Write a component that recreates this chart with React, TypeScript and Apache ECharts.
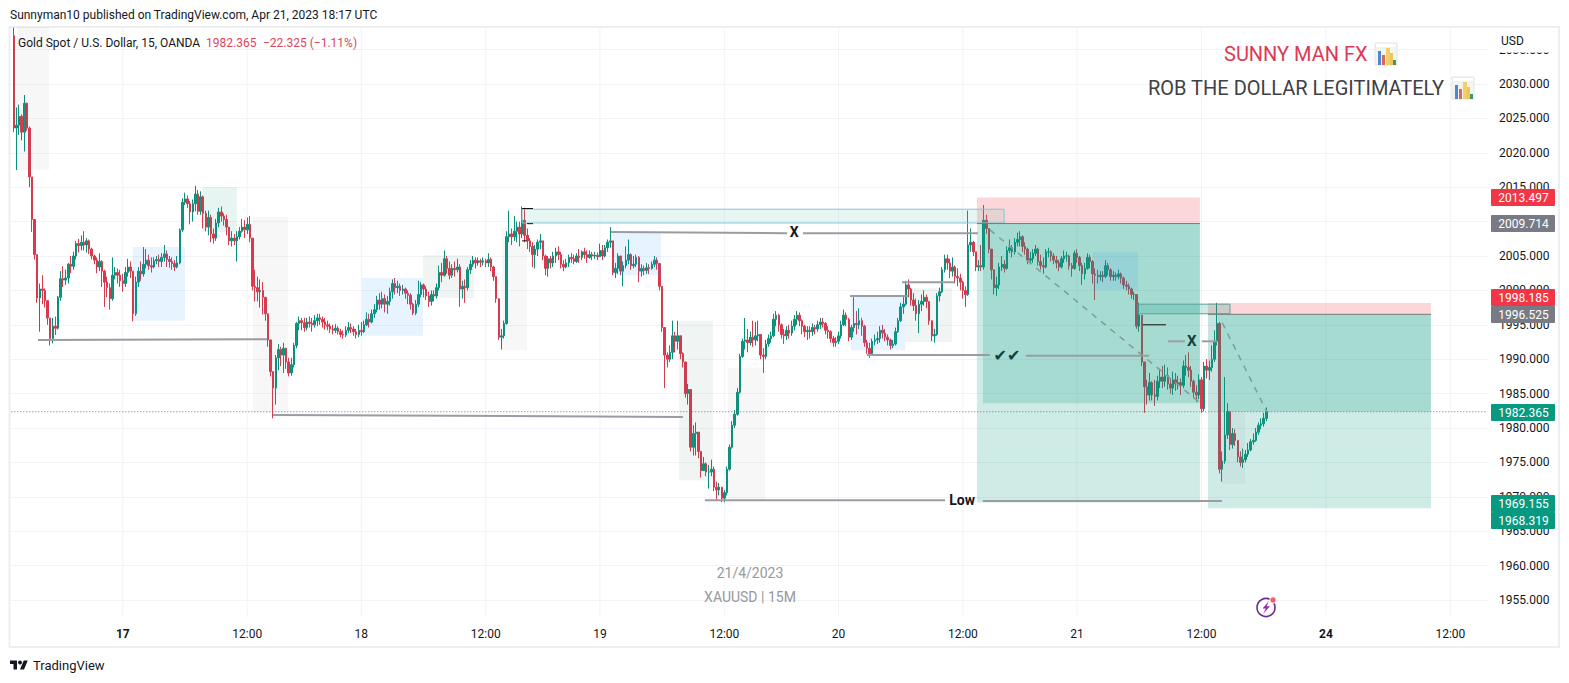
import React, { useEffect, useRef } from "react";
import * as echarts from "echarts";

// Every bar: [close, high, low]; a bar opens at the previous close.
const firstOpen = 2037.0;
const day16 = [
[2023.6,2038.2,2023.0],[2024.0,2026.6,2017.5],[2025.3,2027.0,2022.6],[2023.0,2025.6,2021.8],[2027.2,2028.4,2020.2],
[2023.6,2027.3,2023.2],[2016.5,2023.8,2015.0],[2010.3,2016.5,2008.5],[2005.2,2010.3,2004.5],[1998.9,2005.2,1998.2],
[2000.2,2001.0,1994.0],[2000.0,2002.2,1998.0],[1998.5,2000.3,1997.5],[1996.0,1998.5,1995.0],[1993.0,1996.0,1992.0],
[1994.8,1996.0,1992.3],[1994.5,1996.2,1993.5],[1999.0,1999.2,1994.3],[2001.7,2002.8,1998.5],[2001.5,2003.5,2000.5],
[2001.8,2003.0,2000.8],[2003.8,2004.0,2001.0],[2003.5,2005.0,2002.5],[2005.0,2005.6,2003.0],[2006.8,2007.2,2004.5],
[2006.5,2007.5,2005.5],[2007.0,2008.0,2005.8],[2006.6,2008.6,2005.8],[2007.2,2007.6,2005.5],[2006.0,2007.4,2005.3],
[2005.0,2006.2,2004.5],[2004.4,2005.2,2003.8],[2003.4,2004.8,2002.5],[2004.2,2005.4,2002.8],[2002.8,2004.4,2000.5],
[2001.2,2003.0,1997.6],[2000.4,2002.0,1999.0],[1998.8,2001.0,1997.2],[2002.2,2004.8,1998.5],[2002.6,2003.4,2001.6],
[2002.2,2003.2,2001.0],[2001.4,2003.0,2000.5],
];
const day17 = [
[2001.0,2002.4,1999.8],[2002.6,2003.4,2000.5],[2003.4,2004.6,2002.0],[2002.8,2004.2,2001.8],[1996.6,2002.8,1995.5],
[2001.2,2002.0,1996.3],[2002.8,2003.4,2000.5],[2002.4,2004.2,2001.4],[2003.8,2006.3,2002.0],[2004.4,2006.0,2003.2],
[2003.6,2005.2,2003.0],[2003.4,2004.8,2002.6],[2004.3,2004.8,2003.2],[2004.5,2005.0,2003.8],[2004.2,2005.2,2003.4],
[2004.8,2005.4,2003.4],[2005.3,2006.6,2004.2],[2004.5,2005.8,2003.4],[2004.2,2005.0,2003.3],[2003.9,2004.8,2003.0],
[2003.4,2004.4,2002.8],[2004.0,2005.0,2003.2],[2008.8,2009.0,2003.8],[2012.8,2013.4,2008.5],[2013.3,2014.2,2012.4],
[2012.6,2013.8,2012.0],[2011.4,2013.0,2009.6],[2012.6,2013.2,2010.0],[2014.0,2015.2,2011.5],[2011.5,2014.6,2011.0],
[2013.6,2014.4,2011.0],[2011.2,2013.8,2009.0],[2009.2,2011.6,2008.6],[2010.6,2011.6,2008.0],[2008.2,2011.0,2007.0],
[2007.6,2009.0,2006.8],[2009.8,2010.4,2007.2],[2011.4,2012.0,2009.2],[2010.8,2012.2,2010.0],[2010.3,2011.2,2009.4],
[2009.2,2011.0,2008.0],[2007.2,2009.2,2006.6],[2007.6,2008.6,2006.4],[2007.2,2008.2,2006.6],[2007.8,2008.6,2004.2],
[2008.6,2009.2,2007.4],[2009.2,2010.4,2008.4],[2008.8,2010.2,2007.6],[2009.6,2010.6,2008.2],[2007.6,2010.8,2007.0],
[2000.6,2007.6,2000.0],[2000.4,2003.0,1998.4],[1999.8,2002.0,1998.4],[2000.0,2001.6,1997.5],[1999.0,2001.2,1996.5],
[1996.6,1999.0,1995.6],[1992.8,1996.6,1991.8],[1988.2,1992.8,1987.5],[1985.8,1988.2,1981.4],[1990.2,1990.6,1983.4],
[1991.4,1992.2,1988.4],[1990.6,1991.8,1989.0],[1991.6,1992.4,1988.0],[1989.6,1991.6,1988.6],[1988.0,1990.2,1987.5],
[1989.2,1990.2,1987.6],[1992.0,1992.4,1988.8],[1995.2,1995.4,1991.6],[1995.6,1996.2,1994.2],[1995.3,1996.0,1994.2],
[1994.6,1996.0,1994.0],[1995.4,1996.0,1994.2],[1995.2,1996.2,1994.6],[1995.0,1996.0,1994.0],[1995.6,1996.4,1994.6],
[1996.0,1996.6,1994.8],[1995.8,1996.6,1995.0],[1995.4,1996.2,1994.6],[1995.0,1996.0,1994.3],[1994.8,1995.6,1994.2],
[1994.4,1995.2,1993.8],[1994.2,1995.0,1993.6],[1994.5,1995.1,1993.8],[1994.0,1994.8,1993.6],[1993.6,1994.4,1993.2],
[1993.5,1994.2,1993.0],[1994.2,1994.8,1993.2],[1994.6,1995.4,1993.8],[1994.4,1995.2,1993.8],[1994.0,1994.8,1993.4],
[1993.6,1994.4,1993.0],[1994.2,1995.0,1993.2],
];
const day18 = [
[1994.0,1995.4,1993.4],[1995.0,1995.6,1993.8],[1995.8,1996.8,1994.8],[1995.4,1996.6,1994.6],[1996.6,1997.2,1995.2],
[1997.2,1998.0,1996.0],[1998.6,1999.2,1996.8],[1998.0,1999.6,1997.2],[1998.8,1999.8,1997.4],[1998.0,1999.4,1996.8],
[1998.4,1999.2,1996.6],[1999.8,2000.4,1997.8],[2001.0,2001.6,1998.8],[2000.4,2001.8,1999.4],[2000.6,2001.4,1999.6],
[2000.0,2001.0,1999.2],[2000.2,2000.8,1999.4],[1999.6,2000.4,1998.8],[1999.3,2000.0,1998.0],[1998.0,1999.6,1997.2],
[1996.7,1998.2,1996.4],[1998.0,1998.6,1996.4],[1999.4,2001.4,1997.6],[2000.8,2001.2,1999.0],[2000.2,2001.0,1999.0],
[1999.2,2000.6,1998.6],[1998.4,1999.8,1997.6],[1999.4,2000.0,1997.8],[1999.2,2000.0,1998.4],[2000.4,2001.0,1998.8],
[2002.6,2003.6,2000.0],[2002.2,2004.0,2001.2],[2004.6,2005.8,2002.0],[2003.2,2005.0,2002.4],[2002.2,2004.2,2001.6],
[2003.2,2003.8,2001.8],[2003.0,2004.2,2002.0],[2003.4,2004.6,2002.6],[2000.2,2003.8,1997.6],[2000.6,2001.4,1998.8],
[2000.4,2001.6,1998.2],[2003.0,2003.4,2000.0],[2003.8,2004.4,2002.4],[2004.4,2005.0,2003.4],[2004.0,2004.8,2003.2],
[2004.3,2004.8,2003.6],[2004.1,2004.6,2003.4],[2004.3,2004.8,2003.6],[2004.0,2004.6,2003.4],[2004.5,2005.4,2003.4],
[2003.4,2004.8,2002.8],[2002.0,2003.6,2001.4],[1998.8,2002.0,1998.2],[1993.2,1998.8,1992.8],[1993.4,1994.4,1991.4],
[1995.2,1995.6,1993.0],[2007.8,2008.6,1995.0],[2008.2,2011.6,2007.0],[2007.8,2009.0,2006.6],[2008.6,2010.8,2007.2],
[2009.2,2010.0,2007.0],[2008.2,2010.0,2006.4],[2010.2,2012.2,2007.6],[2008.0,2012.0,2007.0],[2007.2,2009.0,2006.0],
[2006.4,2007.6,2005.6],[2005.2,2007.0,2003.4],[2006.0,2006.6,2003.2],[2007.0,2007.4,2005.0],[2007.2,2008.2,2006.0],
[2005.0,2007.2,2004.4],[2003.2,2005.2,2002.2],[2004.6,2005.0,2002.0],[2004.0,2005.0,2003.2],[2005.0,2005.6,2003.4],
[2005.6,2006.2,2004.0],[2005.2,2006.4,2004.4],[2003.8,2005.6,2003.2],[2003.4,2004.4,2002.8],[2004.0,2004.6,2003.2],
[2004.8,2005.2,2003.4],[2004.6,2005.4,2004.0],[2004.2,2005.2,2003.8],[2005.0,2005.4,2004.0],[2004.8,2006.0,2004.0],
[2005.6,2005.8,2004.4],[2005.2,2006.2,2004.6],[2004.8,2005.8,2004.0],[2005.2,2005.8,2004.6],[2005.0,2005.6,2004.4],
[2005.1,2005.6,2004.6],[2004.9,2005.5,2004.4],
];
const day19 = [
[2005.8,2006.8,2005.0],[2005.0,2006.6,2004.4],[2006.2,2006.6,2004.8],[2007.0,2007.4,2005.6],[2007.2,2009.2,2006.2],
[2002.6,2007.2,2002.2],[2003.2,2004.0,2001.8],[2005.0,2005.4,2002.4],[2002.8,2005.0,2002.2],[2003.6,2004.2,2000.6],
[2004.4,2006.4,2003.2],[2005.2,2007.4,2003.8],[2003.6,2005.4,2003.0],[2003.8,2005.0,2003.2],[2004.8,2005.2,2003.4],
[2002.8,2005.0,2001.2],[2003.2,2003.8,2002.0],[2002.9,2003.6,2002.2],[2003.3,2004.0,2002.4],[2003.2,2003.8,2002.4],
[2003.8,2004.2,2003.0],[2004.4,2005.0,2003.4],[2003.9,2004.8,2003.0],[2000.6,2003.9,2000.0],[1994.6,2000.6,1994.0],
[1990.6,1994.6,1985.8],[1990.0,1991.0,1988.8],[1991.0,1992.0,1989.6],[1993.4,1995.6,1990.0],[1992.6,1994.0,1991.0],
[1993.4,1995.6,1991.4],[1990.8,1993.4,1990.0],[1989.6,1991.0,1988.8],[1985.0,1989.6,1984.4],[1985.6,1986.4,1983.4],
[1977.2,1985.6,1976.6],[1979.2,1980.4,1976.0],[1979.4,1980.8,1976.0],[1976.6,1979.4,1975.6],[1973.8,1976.6,1972.8],
[1974.8,1975.8,1973.8],[1973.6,1975.0,1973.0],[1973.6,1974.6,1971.2],[1974.0,1975.4,1973.0],[1971.4,1974.4,1970.8],
[1971.0,1972.2,1969.6],[1971.4,1972.0,1970.2],[1969.8,1971.4,1969.2],[1970.6,1971.0,1969.2],[1974.0,1974.4,1970.2],
[1977.2,1977.6,1973.8],[1980.4,1981.0,1977.0],[1982.0,1982.6,1980.0],[1985.2,1985.8,1981.8],[1990.4,1990.8,1985.0],
[1992.6,1993.0,1990.2],[1992.8,1996.0,1991.4],[1992.4,1994.4,1991.0],[1993.2,1994.0,1992.0],[1992.8,1995.6,1991.8],
[1993.4,1995.4,1992.0],[1993.6,1995.6,1992.6],[1990.6,1993.6,1990.0],[1990.4,1991.6,1988.0],[1992.2,1992.8,1990.0],
[1993.0,1993.6,1991.8],[1993.4,1994.0,1992.4],[1995.8,1996.6,1993.2],[1996.4,1997.0,1994.8],[1995.0,1996.6,1994.0],
[1993.6,1995.2,1993.0],[1993.4,1994.4,1992.2],[1994.2,1994.8,1992.8],[1993.8,1995.0,1993.0],[1994.8,1995.6,1993.4],
[1995.8,1996.4,1994.2],[1996.4,1997.0,1995.0],[1995.6,1996.8,1994.8],[1994.8,1995.8,1993.6],[1994.0,1995.0,1993.2],
[1994.2,1994.8,1992.8],[1994.0,1994.8,1993.0],[1994.6,1995.2,1993.4],[1994.4,1995.0,1993.6],[1995.0,1995.6,1994.0],
[1995.4,1996.0,1994.4],[1995.2,1996.0,1994.6],[1994.2,1995.4,1993.6],[1994.0,1994.8,1993.0],[1993.0,1994.2,1992.4],
[1992.4,1993.4,1991.8],[1992.6,1993.2,1991.8],
];
const day20 = [
[1993.4,1994.0,1992.2],[1995.0,1995.6,1993.0],[1996.4,1997.2,1994.8],[1995.8,1996.8,1994.8],[1993.2,1996.0,1992.6],
[1994.6,1995.0,1992.8],[1995.2,1999.0,1994.0],[1995.0,1997.0,1993.6],[1995.6,1997.4,1994.4],[1994.8,1996.0,1993.4],
[1992.4,1995.0,1991.8],[1991.6,1992.8,1990.8],[1990.8,1992.4,1990.2],[1992.6,1993.0,1990.6],[1992.8,1993.6,1992.0],
[1993.0,1994.0,1992.2],[1994.2,1994.8,1992.4],[1993.8,1995.0,1993.0],[1993.2,1994.4,1992.6],[1992.8,1993.6,1992.0],
[1992.0,1993.0,1991.4],[1992.2,1992.8,1991.6],[1994.0,1994.6,1992.0],[1995.6,1996.0,1993.8],[1997.6,1998.2,1995.4],
[1998.0,1999.2,1996.6],[2000.8,2001.4,1997.8],[2000.2,2001.6,1999.0],[1998.6,2000.4,1997.8],[1997.8,1999.6,1997.0],
[1996.6,1998.8,1995.6],[1998.0,1998.6,1993.8],[1998.4,1999.4,1997.0],[1999.0,2000.0,1997.8],[1998.4,1999.4,1997.4],
[1995.6,1998.4,1995.0],[1993.4,1995.6,1992.6],[1993.6,1994.4,1992.4],[1999.2,1999.6,1993.4],[1999.8,2000.4,1998.4],
[2003.0,2003.4,1999.6],[2004.6,2005.2,2002.6],[2004.0,2005.2,2003.0],[2002.8,2004.6,2001.8],[2003.4,2004.8,2002.0],
[2002.0,2003.6,2001.0],[2001.8,2003.2,2000.6],[2001.2,2002.4,2000.0],[2000.0,2001.4,1998.8],[1999.4,2000.6,1997.6],
[2006.6,2011.6,1999.2],[2007.0,2009.0,2005.6],[2005.6,2007.2,2005.0],[2003.4,2005.6,2002.8],[2003.6,2004.4,2002.8],
[2003.4,2006.6,2002.8],[2010.2,2012.4,2003.0],[2009.0,2011.0,2008.2],[2006.0,2009.0,2005.4],[2003.0,2006.0,2001.6],
[2000.4,2003.0,1999.4],[2000.8,2002.0,1999.2],[2003.4,2004.0,2000.2],[2003.8,2005.0,2002.8],[2003.2,2004.4,2002.6],
[2005.8,2006.4,2003.0],[2006.2,2007.4,2005.4],[2005.6,2006.6,2004.8],[2007.0,2007.6,2005.2],[2007.4,2008.4,2006.4],
[2007.8,2008.6,2006.4],[2006.4,2008.0,2005.6],[2006.0,2007.0,2005.2],[2004.4,2006.2,2003.8],[2004.6,2005.6,2003.8],
[2005.4,2006.0,2004.0],[2006.0,2006.6,2005.0],[2004.2,2006.2,2003.6],[2003.6,2005.2,2003.0],[2003.4,2004.8,2002.4],
[2005.6,2006.0,2003.2],[2005.6,2006.2,2004.8],[2005.0,2005.8,2004.2],[2004.4,2005.4,2003.8],[2004.0,2005.0,2003.2],
[2003.4,2004.4,2002.8],[2004.6,2005.0,2003.2],[2005.0,2005.8,2004.0],[2005.0,2005.6,2004.2],[2003.6,2005.2,2003.0],
[2003.2,2004.0,2002.0],[2005.4,2005.8,2003.0],
];
const day21 = [
[2004.8,2006.0,2004.0],[2003.6,2005.0,2002.8],[2002.4,2004.0,2000.8],[2003.2,2004.0,2001.6],[2004.8,2005.4,2003.0],
[2004.2,2005.2,2003.2],[2002.4,2004.4,2001.0],[2002.2,2003.2,1998.6],[2002.0,2003.0,2001.0],[2002.2,2002.8,2001.4],
[2002.0,2002.8,2001.2],[2003.6,2004.4,2001.8],[2003.0,2004.0,2002.2],[2002.0,2003.2,2001.4],[2002.2,2002.8,2001.4],
[2002.0,2002.6,2001.4],[2002.4,2003.0,2001.6],[2001.8,2002.6,2001.0],[2000.8,2002.0,2000.2],[2000.6,2001.4,2000.0],
[2000.2,2001.0,1999.4],[1999.4,2000.4,1998.8],[1999.4,1999.8,1998.6],[1994.8,1999.4,1994.4],[1996.4,1998.2,1994.0],
[1989.6,1996.4,1989.0],[1986.0,1989.6,1982.2],[1984.8,1987.0,1983.4],[1986.6,1988.0,1984.0],[1984.8,1986.8,1984.0],
[1984.6,1987.0,1983.2],[1986.8,1987.6,1984.0],[1987.4,1988.6,1985.8],[1986.8,1989.0,1985.8],[1987.6,1989.2,1986.0],
[1986.4,1988.8,1985.6],[1985.8,1987.2,1985.0],[1987.0,1988.2,1984.8],[1986.4,1988.0,1985.4],[1986.6,1987.6,1985.6],
[1986.2,1987.2,1984.8],[1989.0,1989.8,1985.8],[1988.8,1990.6,1987.6],[1988.4,1991.0,1987.4],[1986.8,1989.0,1986.0],
[1985.2,1987.0,1984.4],[1984.8,1986.2,1983.8],[1987.0,1987.8,1984.2],[1982.8,1987.4,1982.2],[1989.0,1989.6,1982.4],
[1988.4,1990.0,1987.2],[1988.8,1989.8,1987.0],[1990.0,1992.0,1988.2],[1992.6,1994.2,1989.6],[1995.2,1998.2,1992.0],
[1974.0,1995.4,1973.4],[1975.2,1976.6,1972.2],[1979.0,1987.4,1974.8],[1982.4,1983.6,1978.4],[1977.6,1982.4,1976.8],
[1979.2,1980.0,1977.0],[1978.2,1979.8,1977.4],[1975.8,1978.2,1975.0],[1975.0,1976.6,1974.4],[1975.4,1977.0,1974.2],
[1976.2,1976.8,1975.0],[1976.8,1977.8,1975.8],[1978.0,1978.4,1976.6],[1978.2,1979.2,1977.6],[1979.4,1980.0,1978.0],
[1980.4,1980.8,1979.0],[1980.6,1981.4,1979.8],[1981.4,1982.2,1980.2],[1982.365,1983.0,1981.0],
];

const barSlots = 570;
const timeTickIndex = [43, 91, 135, 183, 227, 275, 319, 367, 411, 459, 507, 555];
const timeTickLabels = ["17", "12:00", "18", "12:00", "19", "12:00", "20", "12:00", "21", "12:00", "24", "12:00"];
const boldTimeLabels = ["17", "24"];

// [bar from, bar to, top price, bottom price, kind]
const zones: any[] = [
  [2.2, 14.5, 2038.3, 2017.5, "gray"],
  [46.9, 67, 2006.3, 1995.6, "blue"],
  [73.9, 87, 2015, 2008.5, "green"],
  [93.2, 106.7, 2010.7, 1982.2, "gray"],
  [135.2, 158.8, 2001.8, 1993.4, "blue"],
  [158.8, 178.4, 2005.1, 1998.9, "sage"],
  [189.2, 198.9, 2009.1, 1991.3, "gray"],
  [232, 250.6, 2008.3, 2002.2, "blue"],
  [257.5, 270.6, 1995.6, 1972.4, "sage"],
  [276.4, 290.7, 1988.7, 1969.5, "gray"],
  [323.8, 344.7, 1999.2, 1991.3, "blue"],
  [344.7, 362.8, 2000.3, 1992.5, "sage"],
  [372.4, 458.4, 2013.497, 2009.714, "pink"],
  [372.4, 458.4, 2009.714, 1969.155, "teal"],
  [374.7, 458.4, 2009.714, 1983.6, "teal"],
  [461.5, 547.5, 1998.185, 1996.525, "pink"],
  [461.5, 547.5, 1996.525, 1968.319, "teal"],
  [465.3, 547.5, 1996.525, 1982.365, "teal"],
  [461.5, 465.3, 1996.525, 1982.365, "gray"],
  [417.2, 434.5, 2005.6, 2000.1, "blue"],
  [467, 475.8, 1982.3, 1971.9, "gray"],
  [197, 382.9, 2011.8, 2009.8, "box"],
  [434.5, 470, 1998, 1996.6, "box2"],
];

// [bar from, price from, bar to, price to, kind]
const segments: any[] = [
  [10.3, 1992.8, 98.6, 1992.9, "rule"],
  [100.9, 1981.9, 259, 1981.6, "rule"],
  [231.3, 2008.5, 299.2, 2008.3, "rule"],
  [305.3, 2008.3, 372.8, 2008.3, "rule"],
  [267.5, 1969.5, 360.1, 1969.5, "rule"],
  [374.7, 1969.4, 466.9, 1969.4, "rule"],
  [323.5, 1999.2, 345.8, 1999.2, "rule"],
  [343.5, 2001.2, 363.9, 2001.2, "rule"],
  [330, 1990.6, 377.4, 1990.6, "rule"],
  [391.3, 1990.5, 438.8, 1990.5, "rule"],
  [446.1, 1992.6, 452.6, 1992.6, "rule"],
  [459.2, 1992.6, 465, 1992.6, "rule"],
  [436.4, 1995, 445.3, 1995, "ink"],
  [197, 2011.9, 201.2, 2011.9, "ink"],
  [198.9, 2009.7, 201.2, 2009.7, "ink"],
  [197, 2007.2, 198.9, 2007.2, "ink"],
  [377.4, 2008.8, 459.6, 1983.3, "dash"],
  [467, 1995.3, 484.3, 1982.3, "dash"],
  [372.4, 2009.714, 458.4, 2009.714, "entry"],
  [461.5, 1996.525, 547.5, 1996.525, "entry"],
  [0, 1982.365, 569, 1982.365, "last"],
];

// [bar, price, text, kind]
const notes: any[] = [
  [301.9, 2008.5, "X", "note"],
  [366.7, 1969.5, "Low", "note"],
  [384, 1990.6, "✔✔", "tick"],
  [455.3, 1992.6, "X", "noteDark"],
];

const priceTags = ["2013.497", "2009.714", "1998.185", "1996.525", "1982.365", "1969.155", "1968.319"];
const headerText = "Sunnyman10 published on TradingView.com, Apr 21, 2023 18:17 UTC";
const symbolText = "Gold Spot / U.S. Dollar, 15, OANDA";
const lastText = "1982.365";
const changeText = "−22.325 (−1.11%)";

const ZONE_STYLE: any = {
  gray: { fill: "rgba(120,123,134,0.06)" },
  blue: { fill: "rgba(33,150,243,0.11)" },
  green: { fill: "rgba(8,153,129,0.10)" },
  sage: { fill: "rgba(60,130,110,0.08)" },
  pink: { fill: "rgba(242,54,69,0.2)" },
  teal: { fill: "rgba(8,153,129,0.2)" },
  box: { fill: "rgba(76,185,160,0.13)", stroke: "#8ac4d6", lineWidth: 1 },
  box2: { fill: "rgba(8,153,129,0.2)", stroke: "#5f9f98", lineWidth: 1 },
};
const SEG_STYLE: any = {
  rule: { stroke: "#9a9ca3", lineWidth: 2 },
  ink: { stroke: "#111", lineWidth: 1 },
  dash: { stroke: "#7f9c97", lineWidth: 1.5, lineDash: [6, 6] },
  entry: { stroke: "#73797c", lineWidth: 1 },
  last: { stroke: "#6f7480", lineWidth: 1, lineDash: [1, 2] },
};
const NOTE_FONT: any = {
  note: { font: "bold 14px Roboto", fill: "#131722" },
  noteDark: { font: "bold 15px Roboto", fill: "#143f3a" },
  tick: { font: "16px 'DejaVu Sans'", fill: "#143f3a" },
};

const allBars = [...day16, ...day17, ...day18, ...day19, ...day20, ...day21];
const candleRows: any[] = [["-", "-", "-", "-"]];
allBars.forEach((b, i) => {
  const open = i === 0 ? firstOpen : allBars[i - 1][0];
  candleRows.push([open, b[0], b[2], b[1]]);
});
const categories = Array.from({ length: barSlots }, (_, i) => {
  const k = timeTickIndex.indexOf(i);
  return k >= 0 ? timeTickLabels[k] : "";
});

// Bar positions can fall between two slots; the category scale only knows whole ones.
const at = (api: any, i: number, p: number) => {
  const f = Math.floor(i);
  const a = api.coord([f, p]);
  const b = api.coord([f + 1, p]);
  return [a[0] + (b[0] - a[0]) * (i - f), a[1]];
};

const logoKey = "tvLogo";
let logoDone = false;
function ensureLogo() {
  if (logoDone) return;
  echarts.graphic.registerShape(
    logoKey,
    echarts.graphic.extendPath("M14 22H7V11H0V4h14v18zM28 22h-8l7.5-18h8L28 22z", {}) as any,
  );
  logoDone = true;
}

function emojiChart(x: number, y: number) {
  const Z = 100;
  const bars = [
    [3, 8, 3, 14, "#4f86d6"],
    [7, 12, 3, 10, "#d8675e"],
    [11, 5, 4, 17, "#f0cf6a"],
    [15, 10, 3, 12, "#edc65a"],
    [18, 17, 3, 5, "#4a9468"],
  ];
  return {
    type: "group",
    x,
    y,
    children: [
      { type: "rect", z: Z, shape: { x: 0, y: 0, width: 22, height: 22 }, style: { fill: "#f2f4ef", stroke: "#e4e6e2", lineWidth: 1 } },
      { type: "rect", z: Z, shape: { x: 1, y: 1, width: 20, height: 3 }, style: { fill: "#ffffff" } },
      ...bars.map((b) => ({ type: "rect", z: Z, shape: { x: b[0], y: b[1], width: b[2], height: b[3] }, style: { fill: b[4] } })),
    ],
  };
}

export default function App() {
  const ref = useRef<HTMLDivElement>(null);
  useEffect(() => {
    ensureLogo();
    const chart = echarts.init(ref.current as HTMLDivElement, undefined, { renderer: "svg" });
    const tagLayout: any[] = [
      [197.5, "#F23645"], [223.5, "#787B86"], [297.5, "#F23645"], [314.5, "#787B86"],
      [412.5, "#089981"], [503.5, "#089981"], [520.5, "#089981"],
    ];
    const Z = 100;
    const F = "Roboto";
    chart.setOption({
      animation: false,
      backgroundColor: "#ffffff",
      textStyle: { fontFamily: F },
      grid: { left: 10, width: 1478, top: 15.2, height: 619.2, containLabel: false },
      xAxis: {
        type: "category",
        data: categories,
        boundaryGap: true,
        axisLine: { show: false },
        axisTick: { show: false },
        splitLine: { show: false },
        axisLabel: {
          margin: -6,
          color: "#131722",
          fontSize: 12,
          fontFamily: F,
          interval: (i: number) => timeTickIndex.indexOf(i) >= 0,
          formatter: (v: string) => (boldTimeLabels.indexOf(v) >= 0 ? `{b|${v}}` : v),
          rich: { b: { fontWeight: "bold", fontSize: 12, fontFamily: F, color: "#131722" } },
        },
      },
      yAxis: {
        type: "value",
        position: "right",
        min: 1950,
        max: 2040,
        interval: 5,
        axisLine: { show: false },
        axisTick: { show: false },
        splitLine: { show: true, showMinLine: false, showMaxLine: false, lineStyle: { color: "#f2f3f6", width: 1 } },
        axisLabel: {
          margin: 11,
          color: "#131722",
          fontSize: 12,
          fontFamily: F,
          formatter: (v: number) => (v === 2040 || v === 1950 ? "" : v.toFixed(3)),
        },
      },
      series: [
        {
          type: "custom",
          z: 1,
          silent: true,
          clip: false,
          data: timeTickIndex.map((t) => [t, 2000]),
          renderItem: (p: any, api: any) => {
            const t = timeTickIndex[p.dataIndex];
            const a = at(api, t, 2038.3);
            const b = at(api, t, 1952.5);
            return { type: "line", shape: { x1: a[0], y1: a[1], x2: b[0], y2: b[1] }, style: { stroke: "#f2f3f6", lineWidth: 1 } };
          },
        },
        {
          type: "candlestick",
          z: 2,
          barWidth: 2,
          clip: false,
          silent: true,
          data: candleRows,
          itemStyle: {
            color: "#089981",
            color0: "#e0354b",
            borderColor: "#0a8f7a",
            borderColor0: "#d63a4e",
            borderWidth: 1,
          },
        },
        {
          type: "custom",
          z: 5,
          silent: true,
          clip: false,
          data: zones.map((_, i) => [i, 2000]),
          renderItem: (p: any, api: any) => {
            const r = zones[p.dataIndex];
            const a = at(api, r[0], r[2]);
            const b = at(api, r[1], r[3]);
            return { type: "rect", shape: { x: a[0], y: a[1], width: b[0] - a[0], height: b[1] - a[1] }, style: ZONE_STYLE[r[4]] };
          },
        },
        {
          type: "custom",
          z: 6,
          silent: true,
          clip: false,
          data: segments.map((_, i) => [i, 2000]),
          renderItem: (p: any, api: any) => {
            const r = segments[p.dataIndex];
            const a = at(api, r[0], r[1]);
            const b = at(api, r[2], r[3]);
            return { type: "line", shape: { x1: a[0], y1: a[1], x2: b[0], y2: b[1] }, style: SEG_STYLE[r[4]] };
          },
        },
        {
          type: "custom",
          z: 7,
          silent: true,
          clip: false,
          data: notes.map((_, i) => [i, 2000]),
          renderItem: (p: any, api: any) => {
            const r = notes[p.dataIndex];
            const a = at(api, r[0], r[1]);
            return { type: "text", x: a[0], y: a[1], style: { text: r[2], align: "center", verticalAlign: "middle", ...NOTE_FONT[r[3]] } };
          },
        },
      ],
      graphic: [
        { type: "rect", z: 0, silent: true, shape: { x: 9.5, y: 27, width: 1549.5, height: 620 }, style: { fill: "none", stroke: "#eceef2", lineWidth: 2 } },
        { type: "text", z: Z, x: 10, y: 15, style: { text: headerText, font: `12px ${F}`, fill: "#131722", verticalAlign: "middle" } },
        { type: "text", z: Z, x: 18, y: 42.5, style: { text: symbolText, font: `12px ${F}`, fill: "#131722", verticalAlign: "middle" } },
        { type: "text", z: Z, x: 206, y: 42.5, style: { text: lastText, font: `12px ${F}`, fill: "#d9475c", verticalAlign: "middle" } },
        { type: "text", z: Z, x: 263, y: 42.5, style: { text: changeText, font: `12px ${F}`, fill: "#d9475c", verticalAlign: "middle" } },
        { type: "text", z: Z, x: 1224, y: 54, style: { text: "SUNNY MAN FX", font: `20px ${F}`, fill: "#dd3a55", verticalAlign: "middle" } },
        { type: "text", z: Z, x: 1148, y: 88, style: { text: "ROB THE DOLLAR LEGITIMATELY", font: `20px ${F}`, fill: "#3f4045", verticalAlign: "middle" } },
        emojiChart(1375, 43),
        emojiChart(1452, 77),
        { type: "text", z: Z, x: 750, y: 572.5, style: { text: "21/4/2023", font: `14px ${F}`, fill: "#97989c", align: "center", verticalAlign: "middle" } },
        { type: "text", z: Z, x: 750, y: 597, style: { text: "XAUUSD | 15M", font: `14px ${F}`, fill: "#97989c", align: "center", verticalAlign: "middle" } },
        { type: "rect", z: Z, shape: { x: 1490, y: 30, width: 66, height: 22.5 }, style: { fill: "#ffffff" } },
        { type: "text", z: Z + 1, x: 1501, y: 41, style: { text: "USD", font: `12px ${F}`, fill: "#131722", verticalAlign: "middle" } },
        ...priceTags.flatMap((t, i) => [
          { type: "rect", z: Z + 1 + i, shape: { x: 1491, y: tagLayout[i][0] - 8.5, width: 64, height: 17, r: 1 }, style: { fill: tagLayout[i][1] } },
          { type: "text", z: Z + 2 + i, x: 1523.5, y: tagLayout[i][0], style: { text: t, font: `12px ${F}`, fill: "#ffffff", align: "center", verticalAlign: "middle" } },
        ]),
        { type: logoKey, z: Z, x: 10, y: 658.5, scaleX: 0.5, scaleY: 0.5, style: { fill: "#131722" } },
        { type: "circle", z: Z, shape: { cx: 20, cy: 662.5, r: 2 }, style: { fill: "#131722" } },
        { type: "text", z: Z, x: 33, y: 665.5, style: { text: "TradingView", font: `13px ${F}`, fill: "#131722", verticalAlign: "middle" } },
        { type: "circle", z: Z, shape: { cx: 1266, cy: 607.5, r: 9 }, style: { fill: "#ffffff", stroke: "#6b2b8f", lineWidth: 1.6 } },
        { type: "polygon", z: Z + 1, shape: { points: [[1269, 601], [1262.5, 608.5], [1265.8, 608.5], [1263, 614], [1270, 606.3], [1266.6, 606.3]] }, style: { fill: "#9c27b0" } },
        { type: "circle", z: Z + 1, shape: { cx: 1273, cy: 600, r: 3.2 }, style: { fill: "#f0606e", stroke: "#ffffff", lineWidth: 1 } },
      ],
    });
    return () => chart.dispose();
  }, []);
  return <div ref={ref} style={{ position: "fixed", left: 0, top: 0, width: 1569, height: 683, background: "#fff" }} />;
}
